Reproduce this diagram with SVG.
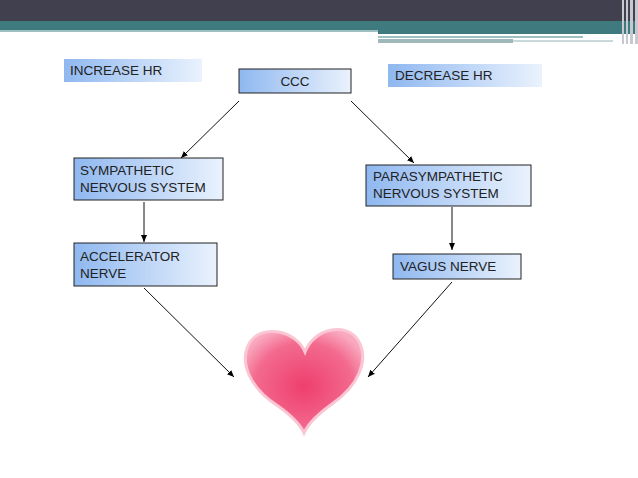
<svg xmlns="http://www.w3.org/2000/svg" width="638" height="478" viewBox="0 0 638 478">
<defs>
<linearGradient id="bx" x1="0" y1="0" x2="1" y2="0"><stop offset="0" stop-color="#8fb8f0"/><stop offset="1" stop-color="#eaf2fd"/></linearGradient>
<radialGradient id="hg" cx="0.5" cy="0.55" r="0.6"><stop offset="0" stop-color="#ee3f6e"/><stop offset="0.7" stop-color="#f36a8e"/><stop offset="1" stop-color="#f9a9bf"/></radialGradient>
<marker id="ar" markerWidth="8" markerHeight="8" refX="7" refY="4" orient="auto" markerUnits="userSpaceOnUse"><path d="M0,1 L7,4 L0,7 z" fill="#000"/></marker>
<style>
.b{fill:url(#bx);stroke:#222;stroke-width:1}
.n{fill:url(#bx)}
.t{font-family:"Liberation Sans",Arial,sans-serif;font-size:13.5px;fill:#222}
.c{stroke:#111;stroke-width:1;fill:none;marker-end:url(#ar)}
</style>
</defs>
<rect width="638" height="478" fill="#fff"/>
<rect x="0" y="0" width="638" height="22" fill="#40404f"/>
<rect x="0" y="21" width="638" height="9" fill="#3e7a7e"/>
<rect x="0" y="30" width="378" height="2" fill="#9fc0c2"/>
<rect x="378" y="30" width="260" height="4" fill="#3e7a7e"/>
<rect x="378" y="36" width="205" height="2" fill="#9fc0c2"/>
<rect x="378" y="39" width="135" height="4" fill="#9fb9ba"/>
<rect x="513" y="40" width="100" height="2" fill="#c9d9da"/>
<g fill="#c8c8d0"><rect x="622" y="0" width="2" height="44"/><rect x="626" y="0" width="2" height="44"/><rect x="630" y="0" width="3" height="44"/><rect x="635" y="0" width="3" height="44"/></g>
<g id="increase"><rect class="n" x="64" y="59" width="138" height="23"/><text class="t" x="70" y="75">INCREASE HR</text></g>
<g id="ccc"><rect class="b" x="239" y="69" width="112" height="24"/><text class="t" x="295" y="86" text-anchor="middle">CCC</text></g>
<g id="decrease"><rect class="n" x="388" y="64" width="154" height="23"/><text class="t" x="395" y="80">DECREASE HR</text></g>
<g id="symp"><rect class="b" x="74" y="158" width="149" height="42"/><text class="t" x="80" y="175">SYMPATHETIC</text><text class="t" x="80" y="192">NERVOUS SYSTEM</text></g>
<g id="para"><rect class="b" x="366" y="165" width="165" height="41"/><text class="t" x="373" y="181">PARASYMPATHETIC</text><text class="t" x="373" y="198">NERVOUS SYSTEM</text></g>
<g id="accel"><rect class="b" x="74" y="243" width="143" height="43"/><text class="t" x="80" y="261">ACCELERATOR</text><text class="t" x="80" y="278">NERVE</text></g>
<g id="vagus"><rect class="b" x="393" y="254" width="128" height="25"/><text class="t" x="400" y="271">VAGUS NERVE</text></g>
<g id="heart"><path d="M305,352 C296,330 262,324 250,342 C238,362 250,388 278,406 C292,416 300,424 304,433 C308,424 318,414 332,404 C358,386 370,360 358,340 C346,322 314,328 305,352 Z" fill="url(#hg)" stroke="#fbc6d4" stroke-width="3"/></g>
<g id="connectors">
<line class="c" x1="239" y1="101" x2="181" y2="158"/>
<line class="c" x1="351" y1="101" x2="414" y2="163"/>
<line class="c" x1="144" y1="202" x2="144" y2="242"/>
<line class="c" x1="452" y1="207" x2="452" y2="250"/>
<line class="c" x1="144" y1="288" x2="234" y2="377"/>
<line class="c" x1="452" y1="282" x2="368" y2="377"/>
</g>
</svg>
